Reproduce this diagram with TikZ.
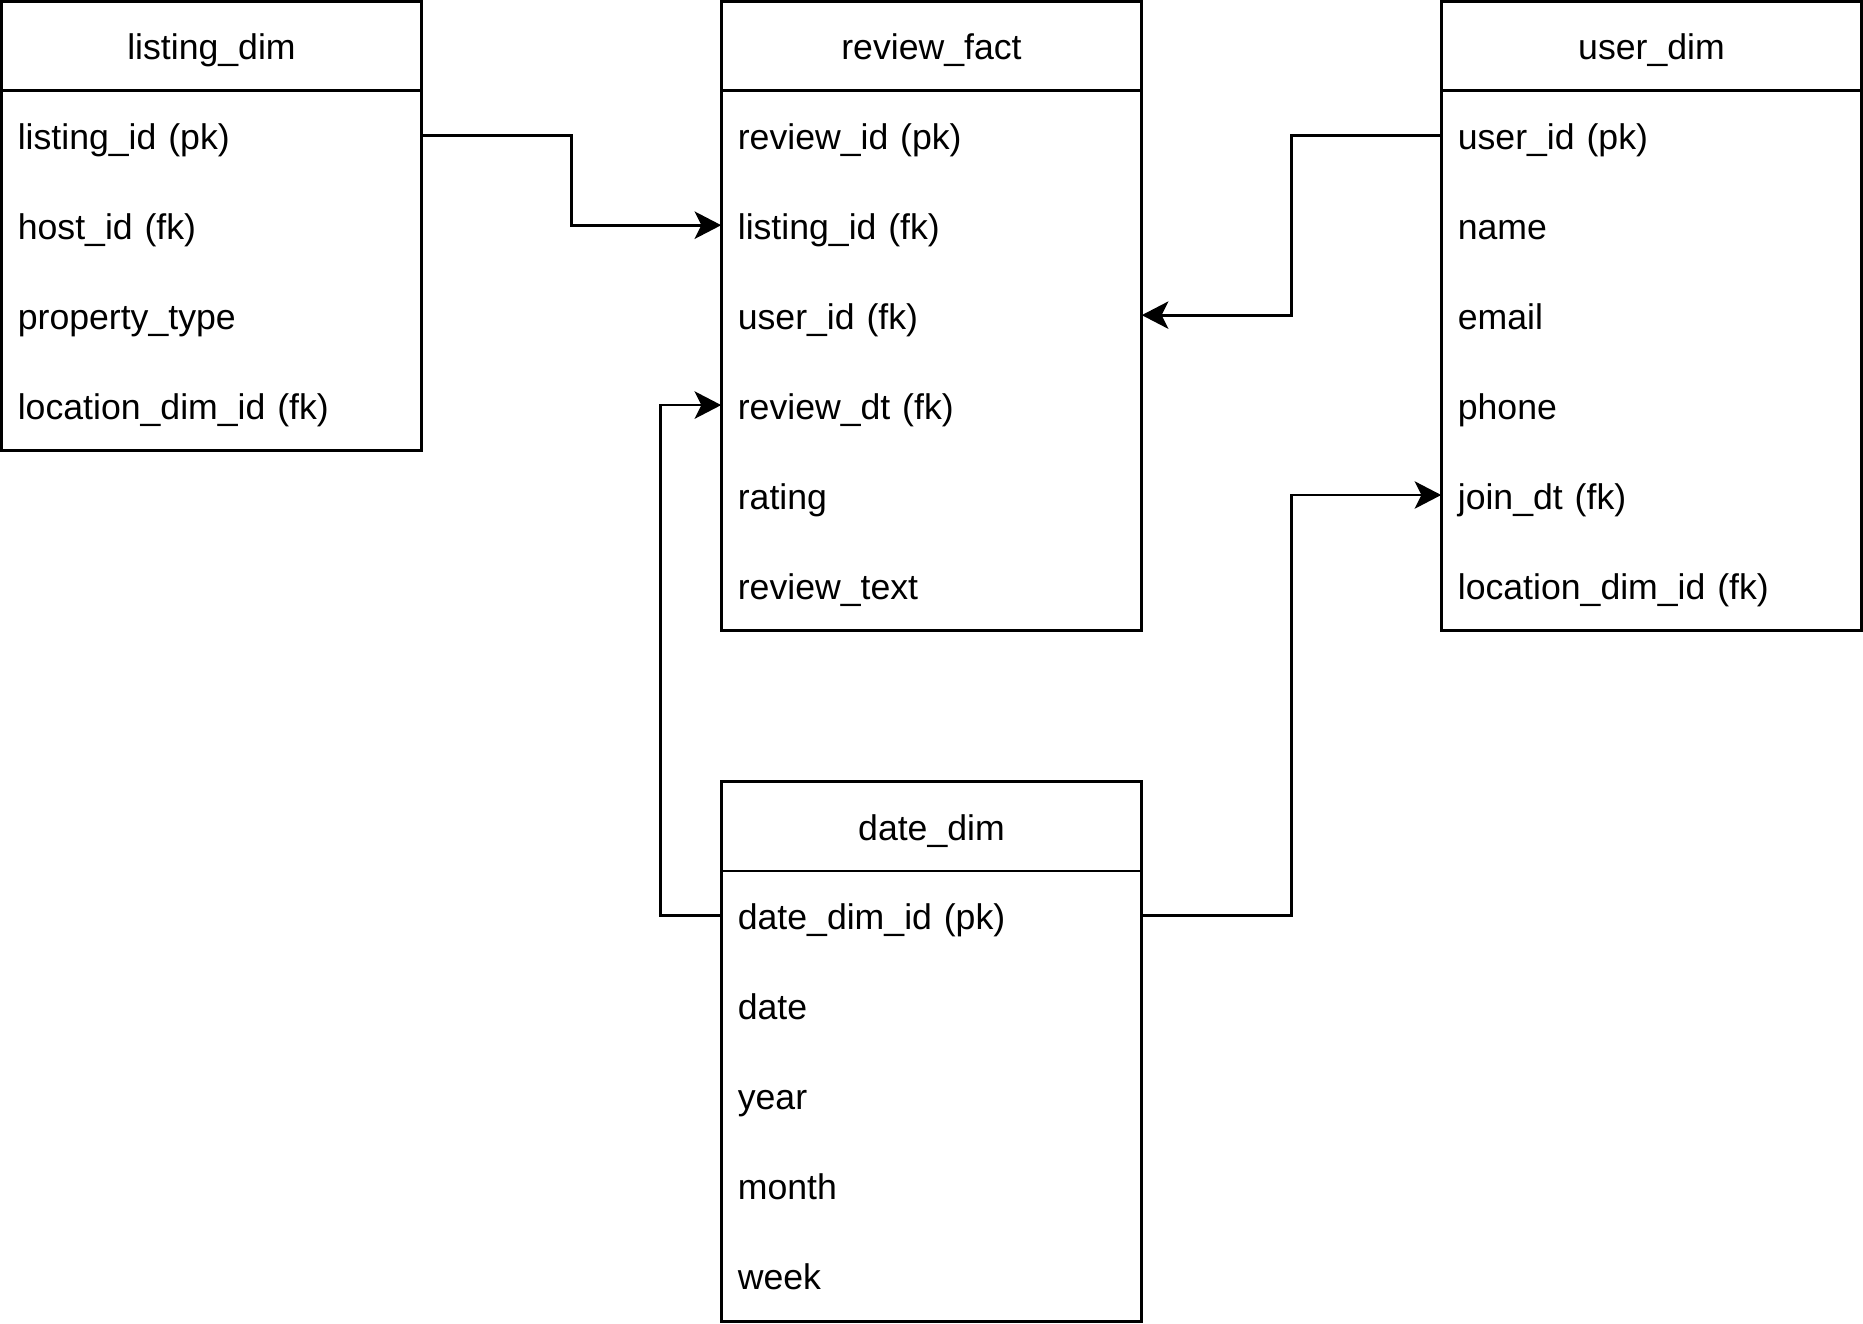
\documentclass[tikz,border=0pt]{standalone}
\usepackage{fontspec}
\setmainfont{Liberation Sans}
\usetikzlibrary{arrows.meta}
\begin{document}
\begin{tikzpicture}[x=0.3pt,y=-0.3pt, line width=0.7pt,
  tbl/.style={draw, rectangle, anchor=north west, minimum width=354*0.3pt, inner sep=0pt, outer sep=0pt},
  hdr/.style={rectangle, anchor=north west, minimum width=354*0.3pt, minimum height=75*0.3pt, inner sep=0pt, outer sep=0pt, text height=7.8pt, text depth=0.7pt, font=\fontsize{9}{11}\selectfont},
  fld/.style={rectangle, anchor=north west, minimum height=75.7*0.3pt, inner xsep=14*0.3pt, inner ysep=0pt, outer sep=0pt, text width=326*0.3pt, text height=7.8pt, text depth=0.7pt, align=left, font=\fontsize{9}{11}\selectfont},
  fk/.style={-{Stealth[length=6.7pt,width=6.9pt,inset=1.7pt]}}
]
\useasboundingbox (0,0) rectangle (1568,1114);

% listing_dim
\node[tbl, minimum height=378*0.3pt] (ld) at (1,1) {};
\node[hdr] (ldh) at (1,1) {listing\_dim};
\draw (ldh.south west) -- (ldh.south east);
\node[fld] (ld1) at (ldh.south west) {listing\_id (pk)};
\node[fld] (ld2) at (ld1.south west) {host\_id (fk)};
\node[fld] (ld3) at (ld2.south west) {property\_type};
\node[fld] (ld4) at (ld3.south west) {location\_dim\_id (fk)};

% review_fact
\node[tbl, minimum height=530*0.3pt] (rf) at (607,1) {};
\node[hdr] (rfh) at (607,1) {review\_fact};
\draw (rfh.south west) -- (rfh.south east);
\node[fld] (rf1) at (rfh.south west) {review\_id (pk)};
\node[fld] (rf2) at (rf1.south west) {listing\_id (fk)};
\node[fld] (rf3) at (rf2.south west) {user\_id (fk)};
\node[fld] (rf4) at (rf3.south west) {review\_dt (fk)};
\node[fld] (rf5) at (rf4.south west) {rating};
\node[fld] (rf6) at (rf5.south west) {review\_text};

% user_dim
\node[tbl, minimum height=530*0.3pt] (ud) at (1213,1) {};
\node[hdr] (udh) at (1213,1) {user\_dim};
\draw (udh.south west) -- (udh.south east);
\node[fld] (ud1) at (udh.south west) {user\_id (pk)};
\node[fld] (ud2) at (ud1.south west) {name};
\node[fld] (ud3) at (ud2.south west) {email};
\node[fld] (ud4) at (ud3.south west) {phone};
\node[fld] (ud5) at (ud4.south west) {join\_dt (fk)};
\node[fld] (ud6) at (ud5.south west) {location\_dim\_id (fk)};

% date_dim
\node[tbl, minimum height=454*0.3pt] (dd) at (607,658) {};
\node[hdr] (ddh) at (607,658) {date\_dim};
\draw (ddh.south west) -- (ddh.south east);
\node[fld] (dd1) at (ddh.south west) {date\_dim\_id (pk)};
\node[fld] (dd2) at (dd1.south west) {date};
\node[fld] (dd3) at (dd2.south west) {year};
\node[fld] (dd4) at (dd3.south west) {month};
\node[fld] (dd5) at (dd4.south west) {week};

% connectors
\draw[fk] (ld1.east) -- ++(126,0) |- (rf2.west);
\draw[fk] (ud1.west) -- ++(-126,0) |- (rf3.east);
\draw[fk] (dd1.west) -- ++(-51,0) |- (rf4.west);
\draw[fk] (dd1.east) -- ++(126,0) |- (ud5.west);
\end{tikzpicture}
\end{document}
